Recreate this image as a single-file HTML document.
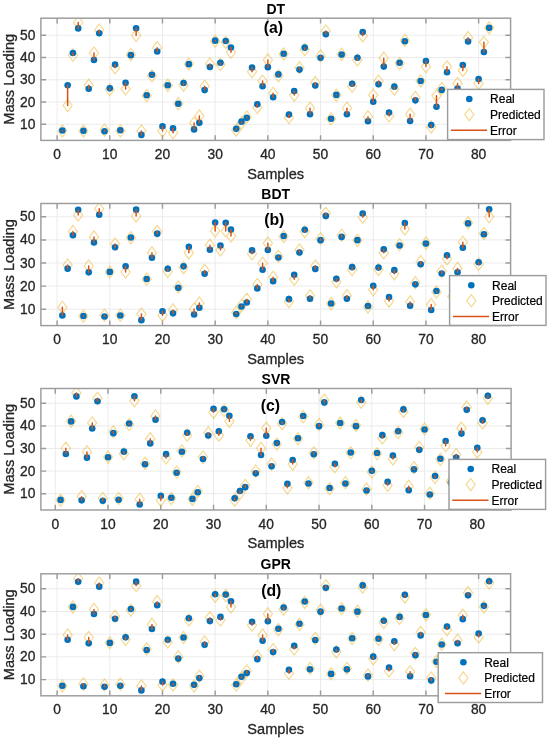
<!DOCTYPE html><html><head><meta charset="utf-8"><style>html,body{margin:0;padding:0;background:#fff;}svg{display:block;filter:blur(0.35px);}text{font-family:"Liberation Sans", Arial, Helvetica, sans-serif;} .t{stroke:#262626;stroke-width:0.3px;}</style></head><body>
<svg width="550" height="740" viewBox="0 0 550 740">
<rect width="550" height="740" fill="#fff"/>
<clipPath id="c0"><rect x="40.9" y="18.2" width="469.7" height="122.2"/></clipPath><path d="M57.1 18.2V140.4M109.79 18.2V140.4M162.48 18.2V140.4M215.17 18.2V140.4M267.86 18.2V140.4M320.55 18.2V140.4M373.24 18.2V140.4M425.93 18.2V140.4M478.62 18.2V140.4M40.9 124.3H510.6M40.9 102.03H510.6M40.9 79.75H510.6M40.9 57.47H510.6M40.9 35.2H510.6" stroke="#ebebeb" stroke-width="1" fill="none"/><path d="M57.1 140.4v-5.2M57.1 18.2v5.2M109.79 140.4v-5.2M109.79 18.2v5.2M162.48 140.4v-5.2M162.48 18.2v5.2M215.17 140.4v-5.2M215.17 18.2v5.2M267.86 140.4v-5.2M267.86 18.2v5.2M320.55 140.4v-5.2M320.55 18.2v5.2M373.24 140.4v-5.2M373.24 18.2v5.2M425.93 140.4v-5.2M425.93 18.2v5.2M478.62 140.4v-5.2M478.62 18.2v5.2M40.9 124.3h5.2M510.6 124.3h-5.2M40.9 102.03h5.2M510.6 102.03h-5.2M40.9 79.75h5.2M510.6 79.75h-5.2M40.9 57.47h5.2M510.6 57.47h-5.2M40.9 35.2h5.2M510.6 35.2h-5.2" stroke="#9c9c9c" stroke-width="1.45" fill="none"/><g clip-path="url(#c0)"><path d="M62.37 124.88L66.97 130.98L62.37 137.08L57.77 130.98ZM67.64 99.49L72.24 105.59L67.64 111.69L63.04 105.59ZM72.91 49.15L77.51 55.25L72.91 61.35L68.31 55.25ZM78.18 16.4L82.78 22.5L78.18 28.6L73.58 22.5ZM83.44 124.88L88.04 130.98L83.44 137.08L78.84 130.98ZM88.71 79.22L93.31 85.32L88.71 91.42L84.11 85.32ZM93.98 46.92L98.58 53.02L93.98 59.12L89.38 53.02ZM99.25 23.98L103.85 30.08L99.25 36.18L94.65 30.08ZM104.52 123.99L109.12 130.09L104.52 136.19L99.92 130.09ZM109.79 83.67L114.39 89.77L109.79 95.87L105.19 89.77ZM115.06 61.62L119.66 67.72L115.06 73.82L110.46 67.72ZM120.33 124.88L124.93 130.98L120.33 137.08L115.73 130.98ZM125.6 82.78L130.2 88.88L125.6 94.98L121 88.88ZM130.87 48.48L135.47 54.58L130.87 60.68L126.27 54.58ZM136.13 29.32L140.73 35.42L136.13 41.52L131.53 35.42ZM141.4 124.88L146 130.98L141.4 137.08L136.8 130.98ZM146.67 89.69L151.27 95.79L146.67 101.89L142.07 95.79ZM151.94 69.64L156.54 75.74L151.94 81.84L147.34 75.74ZM157.21 41.57L161.81 47.67L157.21 53.77L152.61 47.67ZM162.48 124.88L167.08 130.98L162.48 137.08L157.88 130.98ZM167.75 79.22L172.35 85.32L167.75 91.42L163.15 85.32ZM173.02 126.66L177.62 132.76L173.02 138.86L168.42 132.76ZM178.29 97.71L182.89 103.81L178.29 109.91L173.69 103.81ZM183.56 79L188.16 85.1L183.56 91.2L178.96 85.1ZM188.82 57.83L193.42 63.93L188.82 70.03L184.22 63.93ZM194.09 116.86L198.69 122.96L194.09 129.06L189.49 122.96ZM199.36 109.96L203.96 116.06L199.36 122.16L194.76 116.06ZM204.63 80.11L209.23 86.21L204.63 92.31L200.03 86.21ZM209.9 57.83L214.5 63.93L209.9 70.03L205.3 63.93ZM215.17 35.11L219.77 41.21L215.17 47.31L210.57 41.21ZM220.44 58.28L225.04 64.38L220.44 70.48L215.84 64.38ZM225.71 36.23L230.31 42.33L225.71 48.43L221.11 42.33ZM230.98 46.03L235.58 52.13L230.98 58.23L226.38 52.13ZM236.25 123.99L240.85 130.09L236.25 136.19L231.65 130.09ZM241.51 116.86L246.11 122.96L241.51 129.06L236.91 122.96ZM246.78 110.85L251.38 116.95L246.78 123.05L242.18 116.95ZM252.05 65.63L256.65 71.73L252.05 77.83L247.45 71.73ZM257.32 101.27L261.92 107.37L257.32 113.47L252.72 107.37ZM262.59 74.99L267.19 81.09L262.59 87.19L257.99 81.09ZM267.86 53.83L272.46 59.93L267.86 66.03L263.26 59.93ZM273.13 87.24L277.73 93.34L273.13 99.44L268.53 93.34ZM278.4 69.64L283 75.74L278.4 81.84L273.8 75.74ZM283.67 47.81L288.27 53.91L283.67 60.01L279.07 53.91ZM288.94 111.29L293.54 117.39L288.94 123.49L284.34 117.39ZM294.21 89.02L298.81 95.12L294.21 101.22L289.61 95.12ZM299.47 61.62L304.07 67.72L299.47 73.82L294.87 67.72ZM304.74 43.36L309.34 49.46L304.74 55.56L300.14 49.46ZM310.01 102.16L314.61 108.26L310.01 114.36L305.41 108.26ZM315.28 76.55L319.88 82.65L315.28 88.75L310.68 82.65ZM320.55 49.82L325.15 55.92L320.55 62.02L315.95 55.92ZM325.82 24.87L330.42 30.97L325.82 37.07L321.22 30.97ZM331.09 112.63L335.69 118.73L331.09 124.83L326.49 118.73ZM336.36 89.02L340.96 95.12L336.36 101.22L331.76 95.12ZM341.63 48.03L346.23 54.13L341.63 60.23L337.03 54.13ZM346.9 102.16L351.5 108.26L346.9 114.36L342.3 108.26ZM352.16 80.11L356.76 86.21L352.16 92.31L347.56 86.21ZM357.43 53.83L362.03 59.93L357.43 66.03L352.83 59.93ZM362.7 29.77L367.3 35.87L362.7 41.97L358.1 35.87ZM367.97 110.63L372.57 116.73L367.97 122.83L363.37 116.73ZM373.24 89.02L377.84 95.12L373.24 101.22L368.64 95.12ZM378.51 74.99L383.11 81.09L378.51 87.19L373.91 81.09ZM383.78 52.04L388.38 58.14L383.78 64.24L379.18 58.14ZM389.05 109.96L393.65 116.06L389.05 122.16L384.45 116.06ZM394.32 82.78L398.92 88.88L394.32 94.98L389.72 88.88ZM399.59 57.39L404.19 63.49L399.59 69.59L394.99 63.49ZM404.85 34.45L409.45 40.55L404.85 46.65L400.25 40.55ZM410.12 108.18L414.72 114.28L410.12 120.38L405.52 114.28ZM415.39 91.47L419.99 97.57L415.39 103.67L410.79 97.57ZM420.66 74.99L425.26 81.09L420.66 87.19L416.06 81.09ZM425.93 60.51L430.53 66.61L425.93 72.71L421.33 66.61ZM431.2 120.87L435.8 126.97L431.2 133.07L426.6 126.97ZM436.47 89.69L441.07 95.79L436.47 101.89L431.87 95.79ZM441.74 82.34L446.34 88.44L441.74 94.54L437.14 88.44ZM447.01 60.73L451.61 66.83L447.01 72.93L442.41 66.83ZM452.28 105.95L456.88 112.05L452.28 118.15L447.68 112.05ZM457.54 77.44L462.14 83.54L457.54 89.64L452.94 83.54ZM462.81 64.29L467.41 70.39L462.81 76.49L458.21 70.39ZM468.08 31.55L472.68 37.65L468.08 43.75L463.48 37.65ZM473.35 101.49L477.95 107.59L473.35 113.69L468.75 107.59ZM478.62 77.44L483.22 83.54L478.62 89.64L474.02 83.54ZM483.89 36.23L488.49 42.33L483.89 48.43L479.29 42.33ZM489.16 21.75L493.76 27.85L489.16 33.95L484.56 27.85Z" stroke="#EDB120" stroke-width="1.15" stroke-opacity="0.5" fill="none"/><g fill="#0072BD"><circle cx="62.37" cy="130.43" r="3.3"/><circle cx="67.64" cy="85.21" r="3.3"/><circle cx="72.91" cy="53.02" r="3.3"/><circle cx="78.18" cy="28.41" r="3.3"/><circle cx="83.44" cy="130.87" r="3.3"/><circle cx="88.71" cy="88.77" r="3.3"/><circle cx="93.98" cy="60.04" r="3.3"/><circle cx="99.25" cy="33.2" r="3.3"/><circle cx="104.52" cy="131.32" r="3.3"/><circle cx="109.79" cy="88.33" r="3.3"/><circle cx="115.06" cy="64.6" r="3.3"/><circle cx="120.33" cy="130.31" r="3.3"/><circle cx="125.6" cy="82.87" r="3.3"/><circle cx="130.87" cy="55.14" r="3.3"/><circle cx="136.13" cy="28.29" r="3.3"/><circle cx="141.4" cy="134.88" r="3.3"/><circle cx="146.67" cy="95.23" r="3.3"/><circle cx="151.94" cy="74.74" r="3.3"/><circle cx="157.21" cy="51.46" r="3.3"/><circle cx="162.48" cy="126.3" r="3.3"/><circle cx="167.75" cy="85.32" r="3.3"/><circle cx="173.02" cy="128.31" r="3.3"/><circle cx="178.29" cy="103.7" r="3.3"/><circle cx="183.56" cy="82.98" r="3.3"/><circle cx="188.82" cy="64.16" r="3.3"/><circle cx="194.09" cy="129.42" r="3.3"/><circle cx="199.36" cy="122.85" r="3.3"/><circle cx="204.63" cy="90.11" r="3.3"/><circle cx="209.9" cy="66.94" r="3.3"/><circle cx="215.17" cy="40.66" r="3.3"/><circle cx="220.44" cy="62.82" r="3.3"/><circle cx="225.71" cy="40.99" r="3.3"/><circle cx="230.98" cy="47.56" r="3.3"/><circle cx="236.25" cy="128.87" r="3.3"/><circle cx="241.51" cy="121.63" r="3.3"/><circle cx="246.78" cy="117.84" r="3.3"/><circle cx="252.05" cy="67.61" r="3.3"/><circle cx="257.32" cy="104.25" r="3.3"/><circle cx="262.59" cy="86.21" r="3.3"/><circle cx="267.86" cy="67.16" r="3.3"/><circle cx="273.13" cy="97.24" r="3.3"/><circle cx="278.4" cy="74.4" r="3.3"/><circle cx="283.67" cy="53.69" r="3.3"/><circle cx="288.94" cy="114.61" r="3.3"/><circle cx="294.21" cy="91.11" r="3.3"/><circle cx="299.47" cy="69.61" r="3.3"/><circle cx="304.74" cy="47.67" r="3.3"/><circle cx="310.01" cy="114.28" r="3.3"/><circle cx="315.28" cy="85.43" r="3.3"/><circle cx="320.55" cy="57.7" r="3.3"/><circle cx="325.82" cy="34.31" r="3.3"/><circle cx="331.09" cy="118.73" r="3.3"/><circle cx="336.36" cy="94.9" r="3.3"/><circle cx="341.63" cy="54.58" r="3.3"/><circle cx="346.9" cy="114.28" r="3.3"/><circle cx="352.16" cy="83.76" r="3.3"/><circle cx="357.43" cy="57.7" r="3.3"/><circle cx="362.7" cy="31.97" r="3.3"/><circle cx="367.97" cy="121.18" r="3.3"/><circle cx="373.24" cy="101.8" r="3.3"/><circle cx="378.51" cy="84.2" r="3.3"/><circle cx="383.78" cy="66.61" r="3.3"/><circle cx="389.05" cy="112.49" r="3.3"/><circle cx="394.32" cy="86.66" r="3.3"/><circle cx="399.59" cy="62.82" r="3.3"/><circle cx="404.85" cy="41.21" r="3.3"/><circle cx="410.12" cy="120.96" r="3.3"/><circle cx="415.39" cy="100.35" r="3.3"/><circle cx="420.66" cy="80.98" r="3.3"/><circle cx="425.93" cy="61.04" r="3.3"/><circle cx="431.2" cy="125.08" r="3.3"/><circle cx="436.47" cy="106.81" r="3.3"/><circle cx="441.74" cy="89.89" r="3.3"/><circle cx="447.01" cy="72.29" r="3.3"/><circle cx="452.28" cy="113.39" r="3.3"/><circle cx="457.54" cy="88.66" r="3.3"/><circle cx="462.81" cy="65.05" r="3.3"/><circle cx="468.08" cy="41.55" r="3.3"/><circle cx="473.35" cy="108.71" r="3.3"/><circle cx="478.62" cy="79.08" r="3.3"/><circle cx="483.89" cy="52.02" r="3.3"/><circle cx="489.16" cy="27.85" r="3.3"/></g><path d="M62.37 130.43V130.98M67.64 85.21V105.59M72.91 53.02V55.25M78.18 28.41V22.5M83.44 130.87V130.98M88.71 88.77V85.32M93.98 60.04V53.02M99.25 33.2V30.08M104.52 131.32V130.09M109.79 88.33V89.77M115.06 64.6V67.72M120.33 130.31V130.98M125.6 82.87V88.88M130.87 55.14V54.58M136.13 28.29V35.42M141.4 134.88V130.98M146.67 95.23V95.79M151.94 74.74V75.74M157.21 51.46V47.67M162.48 126.3V130.98M167.75 85.32V85.32M173.02 128.31V132.76M178.29 103.7V103.81M183.56 82.98V85.1M188.82 64.16V63.93M194.09 129.42V122.96M199.36 122.85V116.06M204.63 90.11V86.21M209.9 66.94V63.93M215.17 40.66V41.21M220.44 62.82V64.38M225.71 40.99V42.33M230.98 47.56V52.13M236.25 128.87V130.09M241.51 121.63V122.96M246.78 117.84V116.95M252.05 67.61V71.73M257.32 104.25V107.37M262.59 86.21V81.09M267.86 67.16V59.93M273.13 97.24V93.34M278.4 74.4V75.74M283.67 53.69V53.91M288.94 114.61V117.39M294.21 91.11V95.12M299.47 69.61V67.72M304.74 47.67V49.46M310.01 114.28V108.26M315.28 85.43V82.65M320.55 57.7V55.92M325.82 34.31V30.97M331.09 118.73V118.73M336.36 94.9V95.12M341.63 54.58V54.13M346.9 114.28V108.26M352.16 83.76V86.21M357.43 57.7V59.93M362.7 31.97V35.87M367.97 121.18V116.73M373.24 101.8V95.12M378.51 84.2V81.09M383.78 66.61V58.14M389.05 112.49V116.06M394.32 86.66V88.88M399.59 62.82V63.49M404.85 41.21V40.55M410.12 120.96V114.28M415.39 100.35V97.57M420.66 80.98V81.09M425.93 61.04V66.61M431.2 125.08V126.97M436.47 106.81V95.79M441.74 89.89V88.44M447.01 72.29V66.83M452.28 113.39V112.05M457.54 88.66V83.54M462.81 65.05V70.39M468.08 41.55V37.65M473.35 108.71V107.59M478.62 79.08V83.54M483.89 52.02V42.33M489.16 27.85V27.85" stroke="#D95319" stroke-width="1.5" fill="none" stroke-linecap="round"/></g><rect x="40.9" y="18.2" width="469.7" height="122.2" fill="none" stroke="#9c9c9c" stroke-width="1.45"/><text class="t" x="57.1" y="159" font-size="13.8" fill="#262626" text-anchor="middle">0</text><text class="t" x="109.79" y="159" font-size="13.8" fill="#262626" text-anchor="middle">10</text><text class="t" x="162.48" y="159" font-size="13.8" fill="#262626" text-anchor="middle">20</text><text class="t" x="215.17" y="159" font-size="13.8" fill="#262626" text-anchor="middle">30</text><text class="t" x="267.86" y="159" font-size="13.8" fill="#262626" text-anchor="middle">40</text><text class="t" x="320.55" y="159" font-size="13.8" fill="#262626" text-anchor="middle">50</text><text class="t" x="373.24" y="159" font-size="13.8" fill="#262626" text-anchor="middle">60</text><text class="t" x="425.93" y="159" font-size="13.8" fill="#262626" text-anchor="middle">70</text><text class="t" x="478.62" y="159" font-size="13.8" fill="#262626" text-anchor="middle">80</text><text class="t" x="35.4" y="128.8" font-size="13.8" fill="#262626" text-anchor="end">10</text><text class="t" x="35.4" y="106.53" font-size="13.8" fill="#262626" text-anchor="end">20</text><text class="t" x="35.4" y="84.25" font-size="13.8" fill="#262626" text-anchor="end">30</text><text class="t" x="35.4" y="61.97" font-size="13.8" fill="#262626" text-anchor="end">40</text><text class="t" x="35.4" y="39.7" font-size="13.8" fill="#262626" text-anchor="end">50</text><text class="t" x="275.75" y="178.6" font-size="14.6" fill="#262626" text-anchor="middle">Samples</text><text class="t" transform="translate(14.3 79.3) rotate(-90)" font-size="14.6" fill="#262626" text-anchor="middle">Mass Loading</text><text x="275.75" y="13.6" font-size="14" font-weight="bold" fill="#000" text-anchor="middle">DT</text><text x="273.4" y="33.4" font-size="15.8" font-weight="bold" fill="#000" text-anchor="middle">(a)</text><rect x="447.6" y="89.4" width="96.4" height="50.2" fill="#fff" stroke="#9c9c9c" stroke-width="1.45"/><circle cx="469.3" cy="99" r="3.3" fill="#0072BD"/><path d="M469.3 108.5L473.9 114.6L469.3 120.7L464.7 114.6Z" stroke="#EDB120" stroke-width="1.15" stroke-opacity="0.5" fill="none"/><path d="M450.9 130.2H487.1" stroke="#D95319" stroke-width="1.5"/><text class="t" style="stroke:#000;stroke-width:0.2px" x="490.1" y="103.3" font-size="12" fill="#000">Real</text><text class="t" style="stroke:#000;stroke-width:0.2px" x="490.1" y="118.9" font-size="12" fill="#000">Predicted</text><text class="t" style="stroke:#000;stroke-width:0.2px" x="490.1" y="134.5" font-size="12" fill="#000">Error</text>
<clipPath id="c1"><rect x="40.9" y="203.5" width="469.7" height="122.1"/></clipPath><path d="M57.1 203.5V325.6M109.79 203.5V325.6M162.48 203.5V325.6M215.17 203.5V325.6M267.86 203.5V325.6M320.55 203.5V325.6M373.24 203.5V325.6M425.93 203.5V325.6M478.62 203.5V325.6M40.9 309.2H510.6M40.9 286.1H510.6M40.9 263H510.6M40.9 239.9H510.6M40.9 216.8H510.6" stroke="#ebebeb" stroke-width="1" fill="none"/><path d="M57.1 325.6v-5.2M57.1 203.5v5.2M109.79 325.6v-5.2M109.79 203.5v5.2M162.48 325.6v-5.2M162.48 203.5v5.2M215.17 325.6v-5.2M215.17 203.5v5.2M267.86 325.6v-5.2M267.86 203.5v5.2M320.55 325.6v-5.2M320.55 203.5v5.2M373.24 325.6v-5.2M373.24 203.5v5.2M425.93 325.6v-5.2M425.93 203.5v5.2M478.62 325.6v-5.2M478.62 203.5v5.2M40.9 309.2h5.2M510.6 309.2h-5.2M40.9 286.1h5.2M510.6 286.1h-5.2M40.9 263h5.2M510.6 263h-5.2M40.9 239.9h5.2M510.6 239.9h-5.2M40.9 216.8h5.2M510.6 216.8h-5.2" stroke="#9c9c9c" stroke-width="1.45" fill="none"/><g clip-path="url(#c1)"><path d="M62.37 301.25L66.97 307.35L62.37 313.45L57.77 307.35ZM67.64 258.98L72.24 265.08L67.64 271.18L63.04 265.08ZM72.91 225.48L77.51 231.58L72.91 237.68L68.31 231.58ZM78.18 208.85L82.78 214.95L78.18 221.05L73.58 214.95ZM83.44 310.03L88.04 316.13L83.44 322.23L78.84 316.13ZM88.71 259.9L93.31 266L88.71 272.1L84.11 266ZM93.98 230.8L98.58 236.9L93.98 243L89.38 236.9ZM99.25 202.62L103.85 208.72L99.25 214.81L94.65 208.72ZM104.52 309.11L109.12 315.21L104.52 321.31L99.92 315.21ZM109.79 265.91L114.39 272.01L109.79 278.11L105.19 272.01ZM115.06 237.96L119.66 244.06L115.06 250.16L110.46 244.06ZM120.33 309.11L124.93 315.21L120.33 321.31L115.73 315.21ZM125.6 265.91L130.2 272.01L125.6 278.11L121 272.01ZM130.87 231.72L135.47 237.82L130.87 243.92L126.27 237.82ZM136.13 209.78L140.73 215.88L136.13 221.98L131.53 215.88ZM141.4 307.95L146 314.05L141.4 320.15L136.8 314.05ZM146.67 273.07L151.27 279.17L146.67 285.27L142.07 279.17ZM151.94 246.74L156.54 252.84L151.94 258.94L147.34 252.84ZM157.21 225.48L161.81 231.58L157.21 237.68L152.61 231.58ZM162.48 309.11L167.08 315.21L162.48 321.31L157.88 315.21ZM167.75 265.22L172.35 271.32L167.75 277.42L163.15 271.32ZM173.02 303.79L177.62 309.89L173.02 315.99L168.42 309.89ZM178.29 280.92L182.89 287.02L178.29 293.12L173.69 287.02ZM183.56 261.52L188.16 267.62L183.56 273.72L178.96 267.62ZM188.82 246.74L193.42 252.84L188.82 258.94L184.22 252.84ZM194.09 302.87L198.69 308.97L194.09 315.07L189.49 308.97ZM199.36 296.86L203.96 302.96L199.36 309.06L194.76 302.96ZM204.63 264.29L209.23 270.39L204.63 276.49L200.03 270.39ZM209.9 239.11L214.5 245.21L209.9 251.31L205.3 245.21ZM215.17 224.79L219.77 230.89L215.17 236.99L210.57 230.89ZM220.44 243.96L225.04 250.06L220.44 256.16L215.84 250.06ZM225.71 224.79L230.31 230.89L225.71 236.99L221.11 230.89ZM230.98 229.87L235.58 235.97L230.98 242.07L226.38 235.97ZM236.25 306.33L240.85 312.43L236.25 318.53L231.65 312.43ZM241.51 299.4L246.11 305.5L241.51 311.6L236.91 305.5ZM246.78 293.17L251.38 299.27L246.78 305.37L242.18 299.27ZM252.05 247.66L256.65 253.76L252.05 259.86L247.45 253.76ZM257.32 278.38L261.92 284.48L257.32 290.58L252.72 284.48ZM262.59 257.13L267.19 263.23L262.59 269.33L257.99 263.23ZM267.86 237.03L272.46 243.13L267.86 249.23L263.26 243.13ZM273.13 271.22L277.73 277.32L273.13 283.42L268.53 277.32ZM278.4 250.2L283 256.3L278.4 262.4L273.8 256.3ZM283.67 230.34L288.27 236.44L283.67 242.53L279.07 236.44ZM288.94 295.48L293.54 301.58L288.94 307.68L284.34 301.58ZM294.21 273.07L298.81 279.17L294.21 285.27L289.61 279.17ZM299.47 243.96L304.07 250.06L299.47 256.16L294.87 250.06ZM304.74 225.48L309.34 231.58L304.74 237.68L300.14 231.58ZM310.01 289.7L314.61 295.8L310.01 301.9L305.41 295.8ZM315.28 259.9L319.88 266L315.28 272.1L310.68 266ZM320.55 232.65L325.15 238.75L320.55 244.84L315.95 238.75ZM325.82 207.24L330.42 213.34L325.82 219.44L321.22 213.34ZM331.09 297.56L335.69 303.66L331.09 309.76L326.49 303.66ZM336.36 275.61L340.96 281.71L336.36 287.81L331.76 281.71ZM341.63 229.18L346.23 235.28L341.63 241.38L337.03 235.28ZM346.9 289.7L351.5 295.8L346.9 301.9L342.3 295.8ZM352.16 263.37L356.76 269.47L352.16 275.57L347.56 269.47ZM357.43 234.26L362.03 240.36L357.43 246.46L352.83 240.36ZM362.7 211.16L367.3 217.26L362.7 223.36L358.1 217.26ZM367.97 300.79L372.57 306.89L367.97 312.99L363.37 306.89ZM373.24 283.7L377.84 289.8L373.24 295.9L368.64 289.8ZM378.51 263.37L383.11 269.47L378.51 275.57L373.91 269.47ZM383.78 246.74L388.38 252.84L383.78 258.94L379.18 252.84ZM389.05 295.01L393.65 301.12L389.05 307.22L384.45 301.12ZM394.32 267.76L398.92 273.86L394.32 279.96L389.72 273.86ZM399.59 238.65L404.19 244.75L399.59 250.85L394.99 244.75ZM404.85 222.94L409.45 229.04L404.85 235.14L400.25 229.04ZM410.12 295.94L414.72 302.04L410.12 308.14L405.52 302.04ZM415.39 276.53L419.99 282.63L415.39 288.74L410.79 282.63ZM420.66 255.51L425.26 261.61L420.66 267.71L416.06 261.61ZM425.93 237.03L430.53 243.13L425.93 249.23L421.33 243.13ZM431.2 298.48L435.8 304.58L431.2 310.68L426.6 304.58ZM436.47 285.77L441.07 291.88L436.47 297.98L431.87 291.88ZM441.74 265.22L446.34 271.32L441.74 277.42L437.14 271.32ZM447.01 252.74L451.61 258.84L447.01 264.94L442.41 258.84ZM452.28 290.39L456.88 296.5L452.28 302.6L447.68 296.5ZM457.54 262.44L462.14 268.54L457.54 274.64L452.94 268.54ZM462.81 236.11L467.41 242.21L462.81 248.31L458.21 242.21ZM468.08 216.71L472.68 222.81L468.08 228.91L463.48 222.81ZM473.35 285.77L477.95 291.88L473.35 297.98L468.75 291.88ZM478.62 258.05L483.22 264.15L478.62 270.25L474.02 264.15ZM483.89 227.33L488.49 233.43L483.89 239.53L479.29 233.43ZM489.16 210.7L493.76 216.8L489.16 222.9L484.56 216.8Z" stroke="#EDB120" stroke-width="1.15" stroke-opacity="0.5" fill="none"/><g fill="#0072BD"><circle cx="62.37" cy="315.55" r="3.3"/><circle cx="67.64" cy="268.66" r="3.3"/><circle cx="72.91" cy="235.28" r="3.3"/><circle cx="78.18" cy="209.75" r="3.3"/><circle cx="83.44" cy="316.01" r="3.3"/><circle cx="88.71" cy="272.36" r="3.3"/><circle cx="93.98" cy="242.56" r="3.3"/><circle cx="99.25" cy="214.72" r="3.3"/><circle cx="104.52" cy="316.48" r="3.3"/><circle cx="109.79" cy="271.89" r="3.3"/><circle cx="115.06" cy="247.29" r="3.3"/><circle cx="120.33" cy="315.44" r="3.3"/><circle cx="125.6" cy="266.23" r="3.3"/><circle cx="130.87" cy="237.47" r="3.3"/><circle cx="136.13" cy="209.64" r="3.3"/><circle cx="141.4" cy="320.17" r="3.3"/><circle cx="146.67" cy="279.05" r="3.3"/><circle cx="151.94" cy="257.8" r="3.3"/><circle cx="157.21" cy="233.66" r="3.3"/><circle cx="162.48" cy="311.28" r="3.3"/><circle cx="167.75" cy="268.77" r="3.3"/><circle cx="173.02" cy="313.36" r="3.3"/><circle cx="178.29" cy="287.83" r="3.3"/><circle cx="183.56" cy="266.35" r="3.3"/><circle cx="188.82" cy="246.83" r="3.3"/><circle cx="194.09" cy="314.51" r="3.3"/><circle cx="199.36" cy="307.7" r="3.3"/><circle cx="204.63" cy="273.74" r="3.3"/><circle cx="209.9" cy="249.72" r="3.3"/><circle cx="215.17" cy="222.46" r="3.3"/><circle cx="220.44" cy="245.44" r="3.3"/><circle cx="225.71" cy="222.81" r="3.3"/><circle cx="230.98" cy="229.62" r="3.3"/><circle cx="236.25" cy="313.94" r="3.3"/><circle cx="241.51" cy="306.43" r="3.3"/><circle cx="246.78" cy="302.5" r="3.3"/><circle cx="252.05" cy="250.41" r="3.3"/><circle cx="257.32" cy="288.41" r="3.3"/><circle cx="262.59" cy="269.7" r="3.3"/><circle cx="267.86" cy="249.95" r="3.3"/><circle cx="273.13" cy="281.13" r="3.3"/><circle cx="278.4" cy="257.46" r="3.3"/><circle cx="283.67" cy="235.97" r="3.3"/><circle cx="288.94" cy="299.15" r="3.3"/><circle cx="294.21" cy="274.78" r="3.3"/><circle cx="299.47" cy="252.49" r="3.3"/><circle cx="304.74" cy="229.74" r="3.3"/><circle cx="310.01" cy="298.81" r="3.3"/><circle cx="315.28" cy="268.89" r="3.3"/><circle cx="320.55" cy="240.13" r="3.3"/><circle cx="325.82" cy="215.88" r="3.3"/><circle cx="331.09" cy="303.43" r="3.3"/><circle cx="336.36" cy="278.71" r="3.3"/><circle cx="341.63" cy="236.9" r="3.3"/><circle cx="346.9" cy="298.81" r="3.3"/><circle cx="352.16" cy="267.16" r="3.3"/><circle cx="357.43" cy="240.13" r="3.3"/><circle cx="362.7" cy="213.45" r="3.3"/><circle cx="367.97" cy="305.97" r="3.3"/><circle cx="373.24" cy="285.87" r="3.3"/><circle cx="378.51" cy="267.62" r="3.3"/><circle cx="383.78" cy="249.37" r="3.3"/><circle cx="389.05" cy="296.96" r="3.3"/><circle cx="394.32" cy="270.16" r="3.3"/><circle cx="399.59" cy="245.44" r="3.3"/><circle cx="404.85" cy="223.04" r="3.3"/><circle cx="410.12" cy="305.74" r="3.3"/><circle cx="415.39" cy="284.37" r="3.3"/><circle cx="420.66" cy="264.27" r="3.3"/><circle cx="425.93" cy="243.6" r="3.3"/><circle cx="431.2" cy="310.01" r="3.3"/><circle cx="436.47" cy="291.07" r="3.3"/><circle cx="441.74" cy="273.51" r="3.3"/><circle cx="447.01" cy="255.26" r="3.3"/><circle cx="452.28" cy="297.88" r="3.3"/><circle cx="457.54" cy="272.24" r="3.3"/><circle cx="462.81" cy="247.75" r="3.3"/><circle cx="468.08" cy="223.38" r="3.3"/><circle cx="473.35" cy="293.03" r="3.3"/><circle cx="478.62" cy="262.31" r="3.3"/><circle cx="483.89" cy="234.24" r="3.3"/><circle cx="489.16" cy="209.18" r="3.3"/></g><path d="M62.37 315.55V307.35M67.64 268.66V265.08M72.91 235.28V231.58M78.18 209.75V214.95M83.44 316.01V316.13M88.71 272.36V266M93.98 242.56V236.9M99.25 214.72V208.72M104.52 316.48V315.21M109.79 271.89V272.01M115.06 247.29V244.06M120.33 315.44V315.21M125.6 266.23V272.01M130.87 237.47V237.82M136.13 209.64V215.88M141.4 320.17V314.05M146.67 279.05V279.17M151.94 257.8V252.84M157.21 233.66V231.58M162.48 311.28V315.21M167.75 268.77V271.32M173.02 313.36V309.89M178.29 287.83V287.02M183.56 266.35V267.62M188.82 246.83V252.84M194.09 314.51V308.97M199.36 307.7V302.96M204.63 273.74V270.39M209.9 249.72V245.21M215.17 222.46V230.89M220.44 245.44V250.06M225.71 222.81V230.89M230.98 229.62V235.97M236.25 313.94V312.43M241.51 306.43V305.5M246.78 302.5V299.27M252.05 250.41V253.76M257.32 288.41V284.48M262.59 269.7V263.23M267.86 249.95V243.13M273.13 281.13V277.32M278.4 257.46V256.3M283.67 235.97V236.44M288.94 299.15V301.58M294.21 274.78V279.17M299.47 252.49V250.06M304.74 229.74V231.58M310.01 298.81V295.8M315.28 268.89V266M320.55 240.13V238.75M325.82 215.88V213.34M331.09 303.43V303.66M336.36 278.71V281.71M341.63 236.9V235.28M346.9 298.81V295.8M352.16 267.16V269.47M357.43 240.13V240.36M362.7 213.45V217.26M367.97 305.97V306.89M373.24 285.87V289.8M378.51 267.62V269.47M383.78 249.37V252.84M389.05 296.96V301.12M394.32 270.16V273.86M399.59 245.44V244.75M404.85 223.04V229.04M410.12 305.74V302.04M415.39 284.37V282.63M420.66 264.27V261.61M425.93 243.6V243.13M431.2 310.01V304.58M436.47 291.07V291.88M441.74 273.51V271.32M447.01 255.26V258.84M452.28 297.88V296.5M457.54 272.24V268.54M462.81 247.75V242.21M468.08 223.38V222.81M473.35 293.03V291.88M478.62 262.31V264.15M483.89 234.24V233.43M489.16 209.18V216.8" stroke="#D95319" stroke-width="1.5" fill="none" stroke-linecap="round"/></g><rect x="40.9" y="203.5" width="469.7" height="122.1" fill="none" stroke="#9c9c9c" stroke-width="1.45"/><text class="t" x="57.1" y="344.2" font-size="13.8" fill="#262626" text-anchor="middle">0</text><text class="t" x="109.79" y="344.2" font-size="13.8" fill="#262626" text-anchor="middle">10</text><text class="t" x="162.48" y="344.2" font-size="13.8" fill="#262626" text-anchor="middle">20</text><text class="t" x="215.17" y="344.2" font-size="13.8" fill="#262626" text-anchor="middle">30</text><text class="t" x="267.86" y="344.2" font-size="13.8" fill="#262626" text-anchor="middle">40</text><text class="t" x="320.55" y="344.2" font-size="13.8" fill="#262626" text-anchor="middle">50</text><text class="t" x="373.24" y="344.2" font-size="13.8" fill="#262626" text-anchor="middle">60</text><text class="t" x="425.93" y="344.2" font-size="13.8" fill="#262626" text-anchor="middle">70</text><text class="t" x="478.62" y="344.2" font-size="13.8" fill="#262626" text-anchor="middle">80</text><text class="t" x="35.4" y="313.7" font-size="13.8" fill="#262626" text-anchor="end">10</text><text class="t" x="35.4" y="290.6" font-size="13.8" fill="#262626" text-anchor="end">20</text><text class="t" x="35.4" y="267.5" font-size="13.8" fill="#262626" text-anchor="end">30</text><text class="t" x="35.4" y="244.4" font-size="13.8" fill="#262626" text-anchor="end">40</text><text class="t" x="35.4" y="221.3" font-size="13.8" fill="#262626" text-anchor="end">50</text><text class="t" x="275.75" y="363.8" font-size="14.6" fill="#262626" text-anchor="middle">Samples</text><text class="t" transform="translate(14.3 264.55) rotate(-90)" font-size="14.6" fill="#262626" text-anchor="middle">Mass Loading</text><text x="275.75" y="198.9" font-size="14" font-weight="bold" fill="#000" text-anchor="middle">BDT</text><text x="274.3" y="224.8" font-size="15.8" font-weight="bold" fill="#000" text-anchor="middle">(b)</text><rect x="449.6" y="275.6" width="96.4" height="49.8" fill="#fff" stroke="#9c9c9c" stroke-width="1.45"/><circle cx="471.3" cy="285.2" r="3.3" fill="#0072BD"/><path d="M471.3 294.7L475.9 300.8L471.3 306.9L466.7 300.8Z" stroke="#EDB120" stroke-width="1.15" stroke-opacity="0.5" fill="none"/><path d="M452.9 316.4H489.1" stroke="#D95319" stroke-width="1.5"/><text class="t" style="stroke:#000;stroke-width:0.2px" x="492.1" y="289.5" font-size="12" fill="#000">Real</text><text class="t" style="stroke:#000;stroke-width:0.2px" x="492.1" y="305.1" font-size="12" fill="#000">Predicted</text><text class="t" style="stroke:#000;stroke-width:0.2px" x="492.1" y="320.7" font-size="12" fill="#000">Error</text>
<clipPath id="c2"><rect x="40.9" y="388.5" width="470.2" height="121.5"/></clipPath><path d="M55.3 388.5V510M108.05 388.5V510M160.8 388.5V510M213.55 388.5V510M266.3 388.5V510M319.05 388.5V510M371.8 388.5V510M424.55 388.5V510M477.3 388.5V510M40.9 493.7H511.1M40.9 471.1H511.1M40.9 448.5H511.1M40.9 425.9H511.1M40.9 403.3H511.1" stroke="#ebebeb" stroke-width="1" fill="none"/><path d="M55.3 510v-5.2M55.3 388.5v5.2M108.05 510v-5.2M108.05 388.5v5.2M160.8 510v-5.2M160.8 388.5v5.2M213.55 510v-5.2M213.55 388.5v5.2M266.3 510v-5.2M266.3 388.5v5.2M319.05 510v-5.2M319.05 388.5v5.2M371.8 510v-5.2M371.8 388.5v5.2M424.55 510v-5.2M424.55 388.5v5.2M477.3 510v-5.2M477.3 388.5v5.2M40.9 493.7h5.2M511.1 493.7h-5.2M40.9 471.1h5.2M511.1 471.1h-5.2M40.9 448.5h5.2M511.1 448.5h-5.2M40.9 425.9h5.2M511.1 425.9h-5.2M40.9 403.3h5.2M511.1 403.3h-5.2" stroke="#9c9c9c" stroke-width="1.45" fill="none"/><g clip-path="url(#c2)"><path d="M60.57 494.15L65.17 500.25L60.57 506.35L55.97 500.25ZM65.85 442.17L70.45 448.27L65.85 454.37L61.25 448.27ZM71.12 415.05L75.72 421.15L71.12 427.25L66.53 421.15ZM76.4 386.8L81 392.9L76.4 399L71.8 392.9ZM81.67 490.54L86.27 496.64L81.67 502.74L77.08 496.64ZM86.95 445.79L91.55 451.89L86.95 457.99L82.35 451.89ZM92.22 416.86L96.82 422.96L92.22 429.06L87.62 422.96ZM97.5 392.23L102.1 398.33L97.5 404.43L92.9 398.33ZM102.78 492.35L107.38 498.45L102.78 504.55L98.18 498.45ZM108.05 450.99L112.65 457.09L108.05 463.19L103.45 457.09ZM113.33 425.68L117.92 431.78L113.33 437.88L108.73 431.78ZM118.6 492.35L123.2 498.45L118.6 504.55L114 498.45ZM123.88 447.6L128.47 453.7L123.88 459.8L119.28 453.7ZM129.15 418.44L133.75 424.54L129.15 430.64L124.55 424.54ZM134.43 394.71L139.03 400.81L134.43 406.91L129.83 400.81ZM139.7 493.25L144.3 499.35L139.7 505.45L135.1 499.35ZM144.98 457.09L149.58 463.19L144.98 469.29L140.38 463.19ZM150.25 432.68L154.85 438.78L150.25 444.88L145.65 438.78ZM155.53 409.86L160.12 415.96L155.53 422.06L150.93 415.96ZM160.8 494.15L165.4 500.25L160.8 506.35L156.2 500.25ZM166.07 451.89L170.67 457.99L166.07 464.09L161.47 457.99ZM171.35 492.35L175.95 498.45L171.35 504.55L166.75 498.45ZM176.62 465.9L181.22 472L176.62 478.1L172.03 472ZM181.9 444.89L186.5 450.99L181.9 457.09L177.3 450.99ZM187.18 429.07L191.78 435.17L187.18 441.27L182.58 435.17ZM192.45 493.25L197.05 499.35L192.45 505.45L187.85 499.35ZM197.73 485.34L202.33 491.44L197.73 497.54L193.13 491.44ZM203 450.99L207.6 457.09L203 463.19L198.4 457.09ZM208.28 426.81L212.88 432.91L208.28 439.01L203.68 432.91ZM213.55 406.24L218.15 412.34L213.55 418.44L208.95 412.34ZM218.82 429.07L223.42 435.17L218.82 441.27L214.22 435.17ZM224.1 404.43L228.7 410.53L224.1 416.63L219.5 410.53ZM229.38 415.05L233.97 421.15L229.38 427.25L224.78 421.15ZM234.65 494.15L239.25 500.25L234.65 506.35L230.05 500.25ZM239.93 487.15L244.53 493.25L239.93 499.35L235.33 493.25ZM245.2 479.24L249.8 485.34L245.2 491.44L240.6 485.34ZM250.48 434.26L255.08 440.36L250.48 446.46L245.88 440.36ZM255.75 465L260.35 471.1L255.75 477.2L251.15 471.1ZM261.03 442.17L265.63 448.27L261.03 454.37L256.43 448.27ZM266.3 422.06L270.9 428.16L266.3 434.26L261.7 428.16ZM271.57 457.99L276.18 464.09L271.57 470.19L266.97 464.09ZM276.85 437.88L281.45 443.98L276.85 450.08L272.25 443.98ZM282.12 417.54L286.73 423.64L282.12 429.74L277.52 423.64ZM287.4 481.72L292 487.82L287.4 493.92L282.8 487.82ZM292.68 457.99L297.28 464.09L292.68 470.19L288.07 464.09ZM297.95 432.68L302.55 438.78L297.95 444.88L293.35 438.78ZM303.23 410.53L307.83 416.63L303.23 422.73L298.62 416.63ZM308.5 476.53L313.1 482.63L308.5 488.73L303.9 482.63ZM313.78 446.69L318.38 452.79L313.78 458.89L309.18 452.79ZM319.05 418.44L323.65 424.54L319.05 430.64L314.45 424.54ZM324.33 394.04L328.93 400.14L324.33 406.24L319.73 400.14ZM329.6 482.63L334.2 488.73L329.6 494.83L325 488.73ZM334.88 460.71L339.48 466.81L334.88 472.91L330.28 466.81ZM340.15 416.86L344.75 422.96L340.15 429.06L335.55 422.96ZM345.43 476.53L350.03 482.63L345.43 488.73L340.82 482.63ZM350.7 446.69L355.3 452.79L350.7 458.89L346.1 452.79ZM355.98 419.35L360.58 425.45L355.98 431.55L351.38 425.45ZM361.25 396.07L365.85 402.17L361.25 408.27L356.65 402.17ZM366.53 483.08L371.13 489.18L366.53 495.28L361.93 489.18ZM371.8 465.9L376.4 472L371.8 478.1L367.2 472ZM377.08 447.6L381.68 453.7L377.08 459.8L372.48 453.7ZM382.35 431.78L386.95 437.88L382.35 443.98L377.75 437.88ZM387.63 479.24L392.23 485.34L387.63 491.44L383.03 485.34ZM392.9 452.8L397.5 458.9L392.9 465L388.3 458.9ZM398.18 426.35L402.78 432.45L398.18 438.55L393.57 432.45ZM403.45 405.34L408.05 411.44L403.45 417.54L398.85 411.44ZM408.73 480.14L413.33 486.24L408.73 492.34L404.12 486.24ZM414 461.61L418.6 467.71L414 473.81L409.4 467.71ZM419.28 441.27L423.88 447.37L419.28 453.47L414.68 447.37ZM424.55 422.96L429.15 429.06L424.55 435.16L419.95 429.06ZM429.83 487.15L434.43 493.25L429.83 499.35L425.23 493.25ZM435.1 471.33L439.7 477.43L435.1 483.53L430.5 477.43ZM440.38 453.25L444.98 459.35L440.38 465.45L435.78 459.35ZM445.65 439.69L450.25 445.79L445.65 451.89L441.05 445.79ZM450.93 475.17L455.53 481.27L450.93 487.37L446.32 481.27ZM456.2 448.5L460.8 454.6L456.2 460.7L451.6 454.6ZM461.48 422.06L466.08 428.16L461.48 434.26L456.88 428.16ZM466.75 401.04L471.35 407.14L466.75 413.24L462.15 407.14ZM472.03 470.65L476.63 476.75L472.03 482.85L467.43 476.75ZM477.3 445.79L481.9 451.89L477.3 457.99L472.7 451.89ZM482.58 416.86L487.18 422.96L482.58 429.06L477.98 422.96ZM487.85 392.23L492.45 398.33L487.85 404.43L483.25 398.33Z" stroke="#EDB120" stroke-width="1.15" stroke-opacity="0.5" fill="none"/><g fill="#0072BD"><circle cx="60.57" cy="499.91" r="3.3"/><circle cx="65.85" cy="454.04" r="3.3"/><circle cx="71.12" cy="421.38" r="3.3"/><circle cx="76.4" cy="396.41" r="3.3"/><circle cx="81.67" cy="500.37" r="3.3"/><circle cx="86.95" cy="457.65" r="3.3"/><circle cx="92.22" cy="428.5" r="3.3"/><circle cx="97.5" cy="401.27" r="3.3"/><circle cx="102.78" cy="500.82" r="3.3"/><circle cx="108.05" cy="457.2" r="3.3"/><circle cx="113.33" cy="433.13" r="3.3"/><circle cx="118.6" cy="499.8" r="3.3"/><circle cx="123.88" cy="451.66" r="3.3"/><circle cx="129.15" cy="423.53" r="3.3"/><circle cx="134.43" cy="396.29" r="3.3"/><circle cx="139.7" cy="504.44" r="3.3"/><circle cx="144.98" cy="464.21" r="3.3"/><circle cx="150.25" cy="443.42" r="3.3"/><circle cx="155.53" cy="419.8" r="3.3"/><circle cx="160.8" cy="495.73" r="3.3"/><circle cx="166.07" cy="454.15" r="3.3"/><circle cx="171.35" cy="497.77" r="3.3"/><circle cx="176.62" cy="472.8" r="3.3"/><circle cx="181.9" cy="451.78" r="3.3"/><circle cx="187.18" cy="432.68" r="3.3"/><circle cx="192.45" cy="498.9" r="3.3"/><circle cx="197.73" cy="492.23" r="3.3"/><circle cx="203" cy="459.01" r="3.3"/><circle cx="208.28" cy="435.5" r="3.3"/><circle cx="213.55" cy="408.84" r="3.3"/><circle cx="218.82" cy="431.32" r="3.3"/><circle cx="224.1" cy="409.18" r="3.3"/><circle cx="229.38" cy="415.84" r="3.3"/><circle cx="234.65" cy="498.33" r="3.3"/><circle cx="239.93" cy="490.99" r="3.3"/><circle cx="245.2" cy="487.15" r="3.3"/><circle cx="250.48" cy="436.18" r="3.3"/><circle cx="255.75" cy="473.36" r="3.3"/><circle cx="261.03" cy="455.05" r="3.3"/><circle cx="266.3" cy="435.73" r="3.3"/><circle cx="271.57" cy="466.24" r="3.3"/><circle cx="276.85" cy="443.08" r="3.3"/><circle cx="282.12" cy="422.06" r="3.3"/><circle cx="287.4" cy="483.87" r="3.3"/><circle cx="292.68" cy="460.03" r="3.3"/><circle cx="297.95" cy="438.22" r="3.3"/><circle cx="303.23" cy="415.96" r="3.3"/><circle cx="308.5" cy="483.53" r="3.3"/><circle cx="313.78" cy="454.26" r="3.3"/><circle cx="319.05" cy="426.13" r="3.3"/><circle cx="324.33" cy="402.4" r="3.3"/><circle cx="329.6" cy="488.05" r="3.3"/><circle cx="334.88" cy="463.87" r="3.3"/><circle cx="340.15" cy="422.96" r="3.3"/><circle cx="345.43" cy="483.53" r="3.3"/><circle cx="350.7" cy="452.57" r="3.3"/><circle cx="355.98" cy="426.13" r="3.3"/><circle cx="361.25" cy="400.02" r="3.3"/><circle cx="366.53" cy="490.54" r="3.3"/><circle cx="371.8" cy="470.87" r="3.3"/><circle cx="377.08" cy="453.02" r="3.3"/><circle cx="382.35" cy="435.17" r="3.3"/><circle cx="387.63" cy="481.72" r="3.3"/><circle cx="392.9" cy="455.51" r="3.3"/><circle cx="398.18" cy="431.32" r="3.3"/><circle cx="403.45" cy="409.4" r="3.3"/><circle cx="408.73" cy="490.31" r="3.3"/><circle cx="414" cy="469.4" r="3.3"/><circle cx="419.28" cy="449.74" r="3.3"/><circle cx="424.55" cy="429.52" r="3.3"/><circle cx="429.83" cy="494.49" r="3.3"/><circle cx="435.1" cy="475.96" r="3.3"/><circle cx="440.38" cy="458.78" r="3.3"/><circle cx="445.65" cy="440.93" r="3.3"/><circle cx="450.93" cy="482.63" r="3.3"/><circle cx="456.2" cy="457.54" r="3.3"/><circle cx="461.48" cy="433.58" r="3.3"/><circle cx="466.75" cy="409.74" r="3.3"/><circle cx="472.03" cy="477.88" r="3.3"/><circle cx="477.3" cy="447.82" r="3.3"/><circle cx="482.58" cy="420.36" r="3.3"/><circle cx="487.85" cy="395.84" r="3.3"/></g><path d="M60.57 499.91V500.25M65.85 454.04V448.27M71.12 421.38V421.15M76.4 396.41V392.9M81.67 500.37V496.64M86.95 457.65V451.89M92.22 428.5V422.96M97.5 401.27V398.33M102.78 500.82V498.45M108.05 457.2V457.09M113.33 433.13V431.78M118.6 499.8V498.45M123.88 451.66V453.7M129.15 423.53V424.54M134.43 396.29V400.81M139.7 504.44V499.35M144.98 464.21V463.19M150.25 443.42V438.78M155.53 419.8V415.96M160.8 495.73V500.25M166.07 454.15V457.99M171.35 497.77V498.45M176.62 472.8V472M181.9 451.78V450.99M187.18 432.68V435.17M192.45 498.9V499.35M197.73 492.23V491.44M203 459.01V457.09M208.28 435.5V432.91M213.55 408.84V412.34M218.82 431.32V435.17M224.1 409.18V410.53M229.38 415.84V421.15M234.65 498.33V500.25M239.93 490.99V493.25M245.2 487.15V485.34M250.48 436.18V440.36M255.75 473.36V471.1M261.03 455.05V448.27M266.3 435.73V428.16M271.57 466.24V464.09M276.85 443.08V443.98M282.12 422.06V423.64M287.4 483.87V487.82M292.68 460.03V464.09M297.95 438.22V438.78M303.23 415.96V416.63M308.5 483.53V482.63M313.78 454.26V452.79M319.05 426.13V424.54M324.33 402.4V400.14M329.6 488.05V488.73M334.88 463.87V466.81M340.15 422.96V422.96M345.43 483.53V482.63M350.7 452.57V452.79M355.98 426.13V425.45M361.25 400.02V402.17M366.53 490.54V489.18M371.8 470.87V472M377.08 453.02V453.7M382.35 435.17V437.88M387.63 481.72V485.34M392.9 455.51V458.9M398.18 431.32V432.45M403.45 409.4V411.44M408.73 490.31V486.24M414 469.4V467.71M419.28 449.74V447.37M424.55 429.52V429.06M429.83 494.49V493.25M435.1 475.96V477.43M440.38 458.78V459.35M445.65 440.93V445.79M450.93 482.63V481.27M456.2 457.54V454.6M461.48 433.58V428.16M466.75 409.74V407.14M472.03 477.88V476.75M477.3 447.82V451.89M482.58 420.36V422.96M487.85 395.84V398.33" stroke="#D95319" stroke-width="1.5" fill="none" stroke-linecap="round"/></g><rect x="40.9" y="388.5" width="470.2" height="121.5" fill="none" stroke="#9c9c9c" stroke-width="1.45"/><text class="t" x="55.3" y="528.6" font-size="13.8" fill="#262626" text-anchor="middle">0</text><text class="t" x="108.05" y="528.6" font-size="13.8" fill="#262626" text-anchor="middle">10</text><text class="t" x="160.8" y="528.6" font-size="13.8" fill="#262626" text-anchor="middle">20</text><text class="t" x="213.55" y="528.6" font-size="13.8" fill="#262626" text-anchor="middle">30</text><text class="t" x="266.3" y="528.6" font-size="13.8" fill="#262626" text-anchor="middle">40</text><text class="t" x="319.05" y="528.6" font-size="13.8" fill="#262626" text-anchor="middle">50</text><text class="t" x="371.8" y="528.6" font-size="13.8" fill="#262626" text-anchor="middle">60</text><text class="t" x="424.55" y="528.6" font-size="13.8" fill="#262626" text-anchor="middle">70</text><text class="t" x="477.3" y="528.6" font-size="13.8" fill="#262626" text-anchor="middle">80</text><text class="t" x="35.4" y="498.2" font-size="13.8" fill="#262626" text-anchor="end">10</text><text class="t" x="35.4" y="475.6" font-size="13.8" fill="#262626" text-anchor="end">20</text><text class="t" x="35.4" y="453" font-size="13.8" fill="#262626" text-anchor="end">30</text><text class="t" x="35.4" y="430.4" font-size="13.8" fill="#262626" text-anchor="end">40</text><text class="t" x="35.4" y="407.8" font-size="13.8" fill="#262626" text-anchor="end">50</text><text class="t" x="276" y="548.2" font-size="14.6" fill="#262626" text-anchor="middle">Samples</text><text class="t" transform="translate(14.3 449.25) rotate(-90)" font-size="14.6" fill="#262626" text-anchor="middle">Mass Loading</text><text x="276" y="383.9" font-size="14" font-weight="bold" fill="#000" text-anchor="middle">SVR</text><text x="270.3" y="411.1" font-size="15.8" font-weight="bold" fill="#000" text-anchor="middle">(c)</text><rect x="449" y="459.4" width="96.6" height="50" fill="#fff" stroke="#9c9c9c" stroke-width="1.45"/><circle cx="470.7" cy="469" r="3.3" fill="#0072BD"/><path d="M470.7 478.5L475.3 484.6L470.7 490.7L466.1 484.6Z" stroke="#EDB120" stroke-width="1.15" stroke-opacity="0.5" fill="none"/><path d="M452.3 500.2H488.5" stroke="#D95319" stroke-width="1.5"/><text class="t" style="stroke:#000;stroke-width:0.2px" x="491.5" y="473.3" font-size="12" fill="#000">Real</text><text class="t" style="stroke:#000;stroke-width:0.2px" x="491.5" y="488.9" font-size="12" fill="#000">Predicted</text><text class="t" style="stroke:#000;stroke-width:0.2px" x="491.5" y="504.5" font-size="12" fill="#000">Error</text>
<clipPath id="c3"><rect x="40.9" y="573.8" width="469.7" height="122"/></clipPath><path d="M57.1 573.8V695.8M109.79 573.8V695.8M162.48 573.8V695.8M215.17 573.8V695.8M267.86 573.8V695.8M320.55 573.8V695.8M373.24 573.8V695.8M425.93 573.8V695.8M478.62 573.8V695.8M40.9 679.6H510.6M40.9 656.88H510.6M40.9 634.15H510.6M40.9 611.43H510.6M40.9 588.7H510.6" stroke="#ebebeb" stroke-width="1" fill="none"/><path d="M57.1 695.8v-5.2M57.1 573.8v5.2M109.79 695.8v-5.2M109.79 573.8v5.2M162.48 695.8v-5.2M162.48 573.8v5.2M215.17 695.8v-5.2M215.17 573.8v5.2M267.86 695.8v-5.2M267.86 573.8v5.2M320.55 695.8v-5.2M320.55 573.8v5.2M373.24 695.8v-5.2M373.24 573.8v5.2M425.93 695.8v-5.2M425.93 573.8v5.2M478.62 695.8v-5.2M478.62 573.8v5.2M40.9 679.6h5.2M510.6 679.6h-5.2M40.9 656.88h5.2M510.6 656.88h-5.2M40.9 634.15h5.2M510.6 634.15h-5.2M40.9 611.43h5.2M510.6 611.43h-5.2M40.9 588.7h5.2M510.6 588.7h-5.2" stroke="#9c9c9c" stroke-width="1.45" fill="none"/><g clip-path="url(#c3)"><path d="M62.37 679.86L66.97 685.96L62.37 692.06L57.77 685.96ZM67.64 628.96L72.24 635.06L67.64 641.16L63.04 635.06ZM72.91 600.78L77.51 606.88L72.91 612.98L68.31 606.88ZM78.18 572.6L82.78 578.7L78.18 584.8L73.58 578.7ZM83.44 677.82L88.04 683.92L83.44 690.02L78.84 683.92ZM88.71 631.46L93.31 637.56L88.71 643.66L84.11 637.56ZM93.98 603.28L98.58 609.38L93.98 615.48L89.38 609.38ZM99.25 576.92L103.85 583.02L99.25 589.12L94.65 583.02ZM104.52 678.95L109.12 685.05L104.52 691.15L99.92 685.05ZM109.79 636.69L114.39 642.79L109.79 648.89L105.19 642.79ZM115.06 610.32L119.66 616.42L115.06 622.52L110.46 616.42ZM120.33 678.04L124.93 684.14L120.33 690.25L115.73 684.14ZM125.6 633.28L130.2 639.38L125.6 645.48L121 639.38ZM130.87 604.19L135.47 610.29L130.87 616.39L126.27 610.29ZM136.13 579.65L140.73 585.75L136.13 591.85L131.53 585.75ZM141.4 679.86L146 685.96L141.4 692.06L136.8 685.96ZM146.67 642.82L151.27 648.92L146.67 655.02L142.07 648.92ZM151.94 618.28L156.54 624.38L151.94 630.48L147.34 624.38ZM157.21 595.55L161.81 601.65L157.21 607.75L152.61 601.65ZM162.48 678.95L167.08 685.05L162.48 691.15L157.88 685.05ZM167.75 635.78L172.35 641.88L167.75 647.98L163.15 641.88ZM173.02 678.95L177.62 685.05L173.02 691.15L168.42 685.05ZM178.29 650.77L182.89 656.88L178.29 662.98L173.69 656.88ZM183.56 631.46L188.16 637.56L183.56 643.66L178.96 637.56ZM188.82 613.96L193.42 620.06L188.82 626.16L184.22 620.06ZM194.09 679.86L198.69 685.96L194.09 692.06L189.49 685.96ZM199.36 670.09L203.96 676.19L199.36 682.29L194.76 676.19ZM204.63 635.78L209.23 641.88L204.63 647.98L200.03 641.88ZM209.9 611.69L214.5 617.79L209.9 623.89L205.3 617.79ZM215.17 590.1L219.77 596.2L215.17 602.3L210.57 596.2ZM220.44 613.96L225.04 620.06L220.44 626.16L215.84 620.06ZM225.71 589.42L230.31 595.52L225.71 601.62L221.11 595.52ZM230.98 600.78L235.58 606.88L230.98 612.98L226.38 606.88ZM236.25 678.95L240.85 685.05L236.25 691.15L231.65 685.05ZM241.51 671.91L246.11 678.01L241.51 684.11L236.91 678.01ZM246.78 664.86L251.38 670.96L246.78 677.06L242.18 670.96ZM252.05 619.19L256.65 625.29L252.05 631.39L247.45 625.29ZM257.32 650.09L261.92 656.19L257.32 662.29L252.72 656.19ZM262.59 628.96L267.19 635.06L262.59 641.16L257.99 635.06ZM267.86 607.82L272.46 613.92L267.86 620.02L263.26 613.92ZM273.13 643.73L277.73 649.83L273.13 655.93L268.53 649.83ZM278.4 623.5L283 629.61L278.4 635.71L273.8 629.61ZM283.67 603.05L288.27 609.15L283.67 615.25L279.07 609.15ZM288.94 667.14L293.54 673.24L288.94 679.34L284.34 673.24ZM294.21 642.82L298.81 648.92L294.21 655.02L289.61 648.92ZM299.47 618.28L304.07 624.38L299.47 630.48L294.87 624.38ZM304.74 596.24L309.34 602.34L304.74 608.44L300.14 602.34ZM310.01 662.36L314.61 668.46L310.01 674.56L305.41 668.46ZM315.28 632.37L319.88 638.47L315.28 644.57L310.68 638.47ZM320.55 604.19L325.15 610.29L320.55 616.39L315.95 610.29ZM325.82 579.65L330.42 585.75L325.82 591.85L321.22 585.75ZM331.09 667.59L335.69 673.69L331.09 679.79L326.49 673.69ZM336.36 645.55L340.96 651.65L336.36 657.75L331.76 651.65ZM341.63 602.6L346.23 608.7L341.63 614.8L337.03 608.7ZM346.9 662.36L351.5 668.46L346.9 674.56L342.3 668.46ZM352.16 632.37L356.76 638.47L352.16 644.57L347.56 638.47ZM357.43 605.1L362.03 611.2L357.43 617.3L352.83 611.2ZM362.7 581.01L367.3 587.11L362.7 593.21L358.1 587.11ZM367.97 668.96L372.57 675.06L367.97 681.16L363.37 675.06ZM373.24 652.59L377.84 658.69L373.24 664.79L368.64 658.69ZM378.51 633.28L383.11 639.38L378.51 645.48L373.91 639.38ZM383.78 616.46L388.38 622.56L383.78 628.66L379.18 622.56ZM389.05 664.86L393.65 670.96L389.05 677.06L384.45 670.96ZM394.32 638.5L398.92 644.6L394.32 650.7L389.72 644.6ZM399.59 612.14L404.19 618.24L399.59 624.34L394.99 618.24ZM404.85 591.01L409.45 597.11L404.85 603.21L400.25 597.11ZM410.12 665.77L414.72 671.87L410.12 677.97L405.52 671.87ZM415.39 647.37L419.99 653.47L415.39 659.57L410.79 653.47ZM420.66 626.23L425.26 632.33L420.66 638.43L416.06 632.33ZM425.93 608.73L430.53 614.83L425.93 620.93L421.33 614.83ZM431.2 671.91L435.8 678.01L431.2 684.11L426.6 678.01ZM436.47 655.32L441.07 661.42L436.47 667.52L431.87 661.42ZM441.74 638.05L446.34 644.15L441.74 650.25L437.14 644.15ZM447.01 623.5L451.61 629.61L447.01 635.71L442.41 629.61ZM452.28 661L456.88 667.1L452.28 673.2L447.68 667.1ZM457.54 634.19L462.14 640.29L457.54 646.39L452.94 640.29ZM462.81 609.19L467.41 615.29L462.81 621.39L458.21 615.29ZM468.08 586.69L472.68 592.79L468.08 598.89L463.48 592.79ZM473.35 656.46L477.95 662.56L473.35 668.66L468.75 662.56ZM478.62 630.78L483.22 636.88L478.62 642.98L474.02 636.88ZM483.89 600.78L488.49 606.88L483.89 612.98L479.29 606.88ZM489.16 576.92L493.76 583.02L489.16 589.12L484.56 583.02Z" stroke="#EDB120" stroke-width="1.15" stroke-opacity="0.5" fill="none"/><g fill="#0072BD"><circle cx="62.37" cy="685.85" r="3.3"/><circle cx="67.64" cy="639.72" r="3.3"/><circle cx="72.91" cy="606.88" r="3.3"/><circle cx="78.18" cy="581.77" r="3.3"/><circle cx="83.44" cy="686.3" r="3.3"/><circle cx="88.71" cy="643.35" r="3.3"/><circle cx="93.98" cy="614.04" r="3.3"/><circle cx="99.25" cy="586.65" r="3.3"/><circle cx="104.52" cy="686.76" r="3.3"/><circle cx="109.79" cy="642.9" r="3.3"/><circle cx="115.06" cy="618.7" r="3.3"/><circle cx="120.33" cy="685.74" r="3.3"/><circle cx="125.6" cy="637.33" r="3.3"/><circle cx="130.87" cy="609.04" r="3.3"/><circle cx="136.13" cy="581.66" r="3.3"/><circle cx="141.4" cy="690.39" r="3.3"/><circle cx="146.67" cy="649.94" r="3.3"/><circle cx="151.94" cy="629.04" r="3.3"/><circle cx="157.21" cy="605.29" r="3.3"/><circle cx="162.48" cy="681.65" r="3.3"/><circle cx="167.75" cy="639.83" r="3.3"/><circle cx="173.02" cy="683.69" r="3.3"/><circle cx="178.29" cy="658.58" r="3.3"/><circle cx="183.56" cy="637.45" r="3.3"/><circle cx="188.82" cy="618.24" r="3.3"/><circle cx="194.09" cy="684.83" r="3.3"/><circle cx="199.36" cy="678.12" r="3.3"/><circle cx="204.63" cy="644.72" r="3.3"/><circle cx="209.9" cy="621.08" r="3.3"/><circle cx="215.17" cy="594.27" r="3.3"/><circle cx="220.44" cy="616.88" r="3.3"/><circle cx="225.71" cy="594.61" r="3.3"/><circle cx="230.98" cy="601.31" r="3.3"/><circle cx="236.25" cy="684.26" r="3.3"/><circle cx="241.51" cy="676.87" r="3.3"/><circle cx="246.78" cy="673.01" r="3.3"/><circle cx="252.05" cy="621.76" r="3.3"/><circle cx="257.32" cy="659.15" r="3.3"/><circle cx="262.59" cy="640.74" r="3.3"/><circle cx="267.86" cy="621.31" r="3.3"/><circle cx="273.13" cy="651.99" r="3.3"/><circle cx="278.4" cy="628.7" r="3.3"/><circle cx="283.67" cy="607.56" r="3.3"/><circle cx="288.94" cy="669.71" r="3.3"/><circle cx="294.21" cy="645.74" r="3.3"/><circle cx="299.47" cy="623.81" r="3.3"/><circle cx="304.74" cy="601.43" r="3.3"/><circle cx="310.01" cy="669.37" r="3.3"/><circle cx="315.28" cy="639.94" r="3.3"/><circle cx="320.55" cy="611.65" r="3.3"/><circle cx="325.82" cy="587.79" r="3.3"/><circle cx="331.09" cy="673.92" r="3.3"/><circle cx="336.36" cy="649.6" r="3.3"/><circle cx="341.63" cy="608.47" r="3.3"/><circle cx="346.9" cy="669.37" r="3.3"/><circle cx="352.16" cy="638.24" r="3.3"/><circle cx="357.43" cy="611.65" r="3.3"/><circle cx="362.7" cy="585.4" r="3.3"/><circle cx="367.97" cy="676.42" r="3.3"/><circle cx="373.24" cy="656.65" r="3.3"/><circle cx="378.51" cy="638.7" r="3.3"/><circle cx="383.78" cy="620.74" r="3.3"/><circle cx="389.05" cy="667.56" r="3.3"/><circle cx="394.32" cy="641.19" r="3.3"/><circle cx="399.59" cy="616.88" r="3.3"/><circle cx="404.85" cy="594.84" r="3.3"/><circle cx="410.12" cy="676.19" r="3.3"/><circle cx="415.39" cy="655.17" r="3.3"/><circle cx="420.66" cy="635.4" r="3.3"/><circle cx="425.93" cy="615.06" r="3.3"/><circle cx="431.2" cy="680.4" r="3.3"/><circle cx="436.47" cy="661.76" r="3.3"/><circle cx="441.74" cy="644.49" r="3.3"/><circle cx="447.01" cy="626.54" r="3.3"/><circle cx="452.28" cy="668.46" r="3.3"/><circle cx="457.54" cy="643.24" r="3.3"/><circle cx="462.81" cy="619.15" r="3.3"/><circle cx="468.08" cy="595.18" r="3.3"/><circle cx="473.35" cy="663.69" r="3.3"/><circle cx="478.62" cy="633.47" r="3.3"/><circle cx="483.89" cy="605.86" r="3.3"/><circle cx="489.16" cy="581.2" r="3.3"/></g><path d="M62.37 685.85V685.96M67.64 639.72V635.06M72.91 606.88V606.88M78.18 581.77V578.7M83.44 686.3V683.92M88.71 643.35V637.56M93.98 614.04V609.38M99.25 586.65V583.02M104.52 686.76V685.05M109.79 642.9V642.79M115.06 618.7V616.42M120.33 685.74V684.14M125.6 637.33V639.38M130.87 609.04V610.29M136.13 581.66V585.75M141.4 690.39V685.96M146.67 649.94V648.92M151.94 629.04V624.38M157.21 605.29V601.65M162.48 681.65V685.05M167.75 639.83V641.88M173.02 683.69V685.05M178.29 658.58V656.88M183.56 637.45V637.56M188.82 618.24V620.06M194.09 684.83V685.96M199.36 678.12V676.19M204.63 644.72V641.88M209.9 621.08V617.79M215.17 594.27V596.2M220.44 616.88V620.06M225.71 594.61V595.52M230.98 601.31V606.88M236.25 684.26V685.05M241.51 676.87V678.01M246.78 673.01V670.96M252.05 621.76V625.29M257.32 659.15V656.19M262.59 640.74V635.06M267.86 621.31V613.92M273.13 651.99V649.83M278.4 628.7V629.61M283.67 607.56V609.15M288.94 669.71V673.24M294.21 645.74V648.92M299.47 623.81V624.38M304.74 601.43V602.34M310.01 669.37V668.46M315.28 639.94V638.47M320.55 611.65V610.29M325.82 587.79V585.75M331.09 673.92V673.69M336.36 649.6V651.65M341.63 608.47V608.7M346.9 669.37V668.46M352.16 638.24V638.47M357.43 611.65V611.2M362.7 585.4V587.11M367.97 676.42V675.06M373.24 656.65V658.69M378.51 638.7V639.38M383.78 620.74V622.56M389.05 667.56V670.96M394.32 641.19V644.6M399.59 616.88V618.24M404.85 594.84V597.11M410.12 676.19V671.87M415.39 655.17V653.47M420.66 635.4V632.33M425.93 615.06V614.83M431.2 680.4V678.01M436.47 661.76V661.42M441.74 644.49V644.15M447.01 626.54V629.61M452.28 668.46V667.1M457.54 643.24V640.29M462.81 619.15V615.29M468.08 595.18V592.79M473.35 663.69V662.56M478.62 633.47V636.88M483.89 605.86V606.88M489.16 581.2V583.02" stroke="#D95319" stroke-width="1.5" fill="none" stroke-linecap="round"/></g><rect x="40.9" y="573.8" width="469.7" height="122" fill="none" stroke="#9c9c9c" stroke-width="1.45"/><text class="t" x="57.1" y="714.4" font-size="13.8" fill="#262626" text-anchor="middle">0</text><text class="t" x="109.79" y="714.4" font-size="13.8" fill="#262626" text-anchor="middle">10</text><text class="t" x="162.48" y="714.4" font-size="13.8" fill="#262626" text-anchor="middle">20</text><text class="t" x="215.17" y="714.4" font-size="13.8" fill="#262626" text-anchor="middle">30</text><text class="t" x="267.86" y="714.4" font-size="13.8" fill="#262626" text-anchor="middle">40</text><text class="t" x="320.55" y="714.4" font-size="13.8" fill="#262626" text-anchor="middle">50</text><text class="t" x="373.24" y="714.4" font-size="13.8" fill="#262626" text-anchor="middle">60</text><text class="t" x="425.93" y="714.4" font-size="13.8" fill="#262626" text-anchor="middle">70</text><text class="t" x="478.62" y="714.4" font-size="13.8" fill="#262626" text-anchor="middle">80</text><text class="t" x="35.4" y="684.1" font-size="13.8" fill="#262626" text-anchor="end">10</text><text class="t" x="35.4" y="661.38" font-size="13.8" fill="#262626" text-anchor="end">20</text><text class="t" x="35.4" y="638.65" font-size="13.8" fill="#262626" text-anchor="end">30</text><text class="t" x="35.4" y="615.93" font-size="13.8" fill="#262626" text-anchor="end">40</text><text class="t" x="35.4" y="593.2" font-size="13.8" fill="#262626" text-anchor="end">50</text><text class="t" x="275.75" y="734" font-size="14.6" fill="#262626" text-anchor="middle">Samples</text><text class="t" transform="translate(14.3 634.8) rotate(-90)" font-size="14.6" fill="#262626" text-anchor="middle">Mass Loading</text><text x="275.75" y="569.2" font-size="14" font-weight="bold" fill="#000" text-anchor="middle">GPR</text><text x="271.3" y="595.6" font-size="15.8" font-weight="bold" fill="#000" text-anchor="middle">(d)</text><rect x="438.2" y="652.7" width="104.3" height="49.8" fill="#fff" stroke="#9c9c9c" stroke-width="1.45"/><circle cx="463.4" cy="662.3" r="3.3" fill="#0072BD"/><path d="M463.4 671.8L468 677.9L463.4 684L458.8 677.9Z" stroke="#EDB120" stroke-width="1.15" stroke-opacity="0.5" fill="none"/><path d="M445 693.5H481.2" stroke="#D95319" stroke-width="1.5"/><text class="t" style="stroke:#000;stroke-width:0.2px" x="484.2" y="666.6" font-size="12" fill="#000">Real</text><text class="t" style="stroke:#000;stroke-width:0.2px" x="484.2" y="682.2" font-size="12" fill="#000">Predicted</text><text class="t" style="stroke:#000;stroke-width:0.2px" x="484.2" y="697.8" font-size="12" fill="#000">Error</text>
</svg></body></html>
